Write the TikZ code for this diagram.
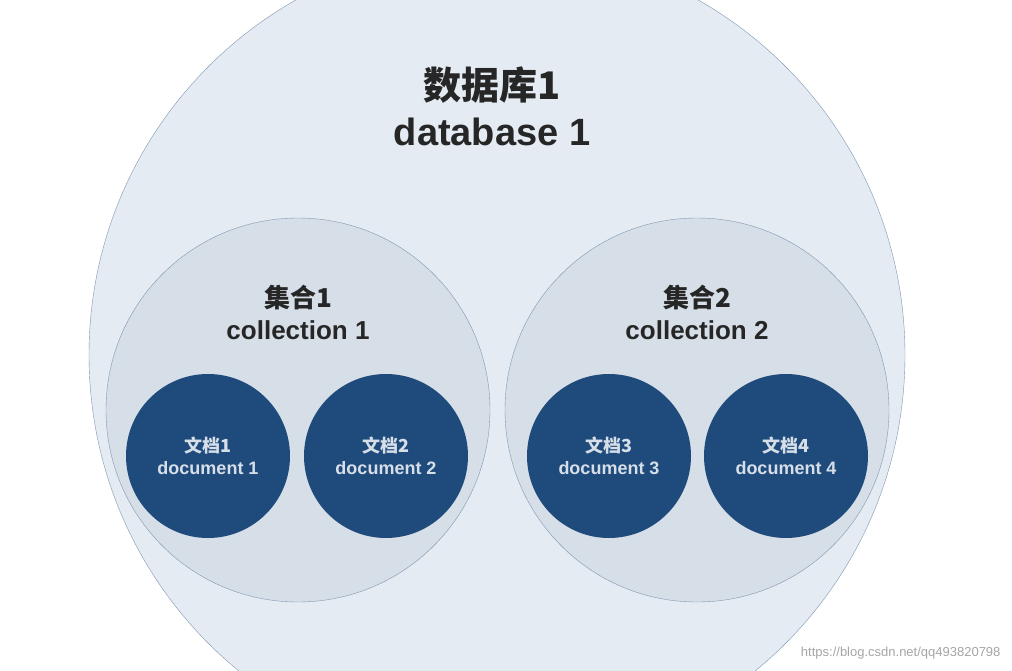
\documentclass[tikz,border=0pt]{standalone}
\usepackage{fontspec}
\setmainfont{Liberation Sans}
\newfontfamily\cjk{Noto Sans CJK SC}
\usetikzlibrary{positioning}
\definecolor{dbFill}{HTML}{E4EBF2}
\definecolor{colFill}{HTML}{D6DFE8}
\definecolor{docFill}{HTML}{1F4A7C}
\definecolor{rimColor}{HTML}{7F97B1}
\newcommand{\docCircle}[3]{%%
  \node[docStyle] (#1) at (#2) {{\cjk\bfseries 文档#3}\\document #3};
}
\newcommand{\colCircle}[3]{%%
  \node[colStyle] (#1) at (#2) {};
  \node[colText] at ([yshift=-95pt]#1.north) {{\cjk\bfseries 集合#3}\\collection #3};
}
\begin{document}
\begin{tikzpicture}[x=1pt,y=-1pt,%%
  dbStyle/.style={circle,draw=rimColor,fill=dbFill,minimum size=816pt,inner sep=0pt},%%
  colStyle/.style={circle,draw=rimColor,fill=colFill,minimum size=384pt,inner sep=0pt},%%
  docStyle/.style={circle,fill=docFill,minimum size=164pt,inner sep=0pt,%%
    font=\bfseries\fontsize{18}{22}\selectfont,align=center,text=colFill},%%
  colText/.style={font=\bfseries\fontsize{26}{32}\selectfont,align=center,text=black!85},%%
  dbText/.style={font=\bfseries\fontsize{38}{46}\selectfont,align=center,text=black!85}%%
]
\useasboundingbox (0,0) rectangle (1012,671);
\clip (0,0) rectangle (1012,671);
\fill[white] (0,0) rectangle (1012,671);
%%
%% Centres of the circles.
\coordinate (dbc) at (497,355);
\coordinate (colA) at (298,410);
\coordinate (colB) at (697,410);
%%
%% The database.
\node[dbStyle] (db) at (dbc) {};
\node[dbText] (dbLabel) at (492,106) {{\cjk\bfseries 数据库1}\\database 1};
%%
%% The collections and documents.
\colCircle{c1}{colA}{1}
\colCircle{c2}{colB}{2}
\docCircle{d1}{208,456}{1}
\docCircle{d2}{386,456}{2}
\docCircle{d3}{609,456}{3}
\docCircle{d4}{786,456}{4}
%%
\node[text=black!35,font=\fontsize{13}{15}\selectfont,anchor=east] (mark) at (1004,653) {https://blog.csdn.net/qq493820798};
\end{tikzpicture}
\end{document}
